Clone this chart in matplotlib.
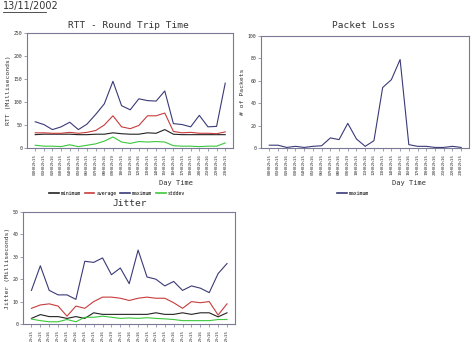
import matplotlib
matplotlib.use("Agg")
import matplotlib.pyplot as plt
from matplotlib.lines import Line2D

# x labels (hour h minute h second), 18h is missing in the data
labels = ["00H02h15", "01H02h15", "02H02h16", "03H02h15", "04H02h15", "05H02h16",
          "06H02h15", "07H02h15", "08H02h16", "09H02h19", "10H02h15", "11H02h16",
          "12H02h16", "13H02h15", "14H02h15", "15H02h15", "16H02h16", "17H02h15",
          "19H02h15", "20H02h16", "21H02h16", "22H02h15", "23H02h15"]

rtt_min = [29, 30, 30, 30, 30, 29, 29, 30, 30, 33, 31, 30, 30, 33, 32, 40, 30, 29, 29, 29, 29, 29, 29]
rtt_avg = [33, 33, 32, 32, 34, 32, 34, 38, 50, 70, 46, 42, 49, 70, 70, 76, 36, 33, 34, 32, 32, 31, 35]
rtt_max = [57, 51, 40, 46, 56, 40, 52, 73, 96, 145, 92, 83, 107, 103, 102, 124, 53, 51, 46, 71, 46, 47, 141]
rtt_std = [6, 4, 4, 3, 7, 3, 6, 9, 15, 24, 13, 10, 14, 13, 14, 13, 5, 4, 4, 3, 4, 4, 11]

loss_max = [2.5, 2.5, 0.5, 1.5, 0.5, 1.5, 2, 9, 7.5, 22, 8, 1.5, 6.5, 54, 61, 79, 3, 1.5, 1.5, 0.5, 0.5, 1.5, 0.5]

jit_min = [2.5, 4.2, 3.3, 3.3, 2.5, 3.3, 2.5, 5, 4.3, 4.3, 4.3, 4.3, 4.3, 4.3, 5, 4.3, 4.3, 5, 4.3, 5, 5, 3.2, 5]
jit_avg = [7, 8.5, 9, 8, 3.5, 8, 7, 10, 12, 12, 11.5, 10.5, 11.5, 12, 11.5, 11.5, 9.5, 7, 10, 9.5, 10, 4, 9]
jit_max = [15, 26, 15, 13, 13, 11, 28, 27.5, 29.5, 22, 25, 18, 33, 21, 20, 17, 19, 15, 17, 16, 14, 22.5, 27]
jit_std = [2.2, 1.5, 1, 1, 2, 1, 3, 3, 3.5, 3, 2.5, 2.7, 2.5, 2.8, 2.5, 2.3, 2, 1.5, 1.5, 1.5, 1.5, 2, 2]

c_min = "#222222"
c_avg = "#c83c3c"
c_max = "#3a3a78"
c_std = "#3cc83c"
frame = "#7a7a96"
mono = "DejaVu Sans Mono"

W, H = 474, 342
fig = plt.figure(figsize=(W / 100, H / 100), dpi=100)
fig.patch.set_facecolor("white")


def box(l, t, r, b):
    return [l / W, 1 - b / H, (r - l) / W, (b - t) / H]


def style(ax, ymax, step, ylabel):
    x = range(len(labels))
    ax.set_xlim(-0.95, len(labels) - 0.1)
    ax.set_ylim(0, ymax)
    ax.set_yticks(range(0, ymax + 1, step))
    ax.set_xticks(list(x))
    ax.set_xticklabels(labels, rotation=90, fontsize=3.2, family=mono, color="#333333")
    ax.tick_params(axis="y", labelsize=3.5, length=2, width=0.5, color=frame, labelcolor="#333333", pad=1.5)
    ax.tick_params(axis="x", length=2, width=0.5, color=frame, pad=2)
    for lab in ax.get_yticklabels():
        lab.set_family(mono)
    for s in ax.spines.values():
        s.set_color(frame)
        s.set_linewidth(0.8)
    ax.set_ylabel(ylabel, fontsize=4.6, family=mono, color="#333333", labelpad=2)


lw = 0.8
x = range(len(labels))

# RTT
ax1 = fig.add_axes(box(27, 33, 233, 148))
ax1.plot(x, rtt_min, color=c_min, lw=lw)
ax1.plot(x, rtt_avg, color=c_avg, lw=lw)
ax1.plot(x, rtt_max, color=c_max, lw=lw)
ax1.plot(x, rtt_std, color=c_std, lw=lw)
style(ax1, 250, 50, "RTT (Milliseconds)")
fig.text(128 / W, 1 - 26 / H, "RTT - Round Trip Time", ha="center", va="center",
         fontsize=6.8, family=mono, color="#333333")
fig.text(176 / W, 1 - 183 / H, "Day Time", ha="center", va="center",
         fontsize=5, family=mono, color="#333333")

# Packet loss
ax2 = fig.add_axes(box(261, 36, 469, 148))
ax2.plot(x, loss_max, color=c_max, lw=lw)
style(ax2, 100, 20, "# of Packets")
fig.text(364 / W, 1 - 26 / H, "Packet Loss", ha="center", va="center",
         fontsize=6.8, family=mono, color="#333333")
fig.text(409 / W, 1 - 183 / H, "Day Time", ha="center", va="center",
         fontsize=5, family=mono, color="#333333")

# Jitter
ax3 = fig.add_axes(box(23, 212, 235, 324))
ax3.plot(x, jit_min, color=c_min, lw=lw)
ax3.plot(x, jit_avg, color=c_avg, lw=lw)
ax3.plot(x, jit_max, color=c_max, lw=lw)
ax3.plot(x, jit_std, color=c_std, lw=lw)
style(ax3, 50, 10, "Jitter (Milliseconds)")
fig.text(130 / W, 1 - 203 / H, "Jitter", ha="center", va="center",
         fontsize=6.8, family=mono, color="#333333")

# legends
handles = [Line2D([], [], color=c, lw=1.2) for c in (c_min, c_avg, c_max, c_std)]
fig.legend(handles, ["minimum", "average", "maximum", "stddev"],
           loc="center", bbox_to_anchor=(117 / W, 1 - 193 / H), ncol=4, frameon=False,
           prop={"family": mono, "size": 3.5}, handlelength=2.0, columnspacing=0.8,
           handletextpad=0.4)
fig.legend([Line2D([], [], color=c_max, lw=1.2)], ["maximum"],
           loc="center", bbox_to_anchor=(353 / W, 1 - 193 / H), frameon=False,
           prop={"family": mono, "size": 3.5}, handlelength=2.0, handletextpad=0.4)

# date header, underlined
fig.text(3 / W, 1 - 6 / H, "13/11/2002", ha="left", va="center", fontsize=7, color="#333333")
fig.add_artist(Line2D([3 / W, 46 / W], [1 - 11.5 / H, 1 - 11.5 / H], color="#333333", lw=0.6))

plt.savefig("out.png", dpi=100)
